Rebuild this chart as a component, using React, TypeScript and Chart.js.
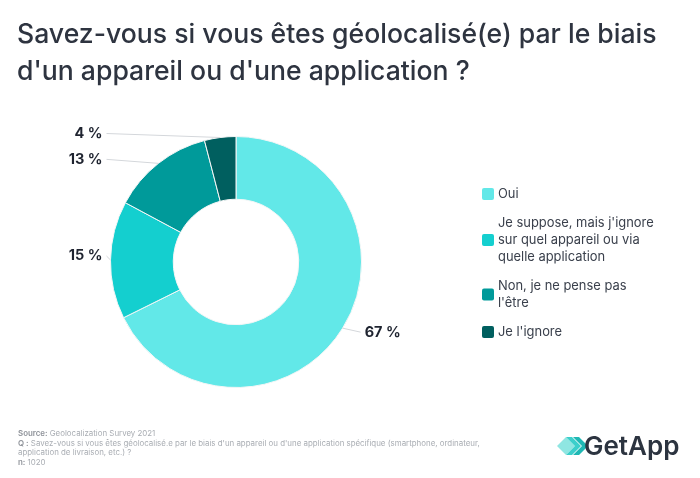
import React, { useEffect, useRef } from "react";
import { Chart, registerables } from "chart.js";

Chart.register(...registerables);

// Survey answers, in drawing order (clockwise from 12 o'clock)
const categories = [
  "Oui",
  "Je suppose, mais j'ignore sur quel appareil ou via quelle application",
  "Non, je ne pense pas l'être",
  "Je l'ignore",
];
const legendLines = [
  ["Oui"],
  ["Je suppose, mais j'ignore", "sur quel appareil ou via", "quelle application"],
  ["Non, je ne pense pas", "l'être"],
  ["Je l'ignore"],
];
const shares = [67, 15, 13, 4];
const sliceColors = ["#62E8E8", "#14CFCF", "#009A9A", "#005F5F"];

const titleLines = [
  "Savez-vous si vous êtes géolocalisé(e) par le biais",
  "d'un appareil ou d'une application ?",
];
const footerLines: [string, string][] = [
  ["Source:", " Geolocalization Survey 2021"],
  ["Q :", " Savez-vous si vous êtes géolocalisé.e par le biais d'un appareil ou d'une application spécifique (smartphone, ordinateur,"],
  ["", "application de livraison, etc.) ?"],
  ["n:", " 1020"],
];

const FONT = "Inter, 'Open Sans', sans-serif";
const TEXT_DARK = "#2E3440";

const decorPlugin = {
  id: "decor",
  afterDraw(chart: any) {
    const ctx: CanvasRenderingContext2D = chart.ctx;
    ctx.save();

    // Title
    ctx.fillStyle = TEXT_DARK;
    ctx.font = `500 26.6px ${FONT}`;
    ctx.textAlign = "left";
    ctx.textBaseline = "alphabetic";
    titleLines.forEach((t, i) => ctx.fillText(t, 17, 43 + i * 37));

    // Percentage labels with leader lines
    const meta = chart.getDatasetMeta(0);
    meta.data.forEach((arc: any, i: number) => {
      const p = arc.getProps(["x", "y", "startAngle", "endAngle", "outerRadius"], true);
      const mid = (p.startAngle + p.endAngle) / 2;
      const px = p.x + Math.cos(mid) * p.outerRadius;
      const py = p.y + Math.sin(mid) * p.outerRadius;
      const left = Math.cos(mid) < 0;
      const ly = py + (left ? -4 : 4);
      const lx = left ? p.x - p.outerRadius - 8 : px + 22;
      ctx.strokeStyle = "#D4D7DB";
      ctx.lineWidth = 1;
      ctx.beginPath();
      ctx.moveTo(left ? lx + 4 : lx - 4, ly);
      ctx.lineTo(px, py);
      ctx.stroke();
      ctx.fillStyle = "#1F2430";
      ctx.font = `700 14.5px ${FONT}`;
      ctx.textBaseline = "middle";
      ctx.textAlign = left ? "right" : "left";
      ctx.fillText(`${shares[i]} %`, lx, ly);
    });

    // Legend
    ctx.textAlign = "left";
    ctx.textBaseline = "middle";
    ctx.font = `400 12.9px ${FONT}`;
    const lineH = 17;
    let y = 194;
    legendLines.forEach((lines, i) => {
      const blockH = (lines.length - 1) * lineH;
      const cy = y + blockH / 2;
      ctx.fillStyle = sliceColors[i];
      ctx.beginPath();
      (ctx as any).roundRect(482, cy - 6, 12, 12, 2);
      ctx.fill();
      ctx.fillStyle = "#3A404C";
      lines.forEach((l, j) => ctx.fillText(l, 498, y + j * lineH));
      y += blockH + 29;
    });

    // Footer
    ctx.textBaseline = "alphabetic";
    footerLines.forEach(([head, rest], i) => {
      const fy = 436 + i * 9.6;
      let x = 18;
      if (head) {
        ctx.font = `600 7.9px ${FONT}`;
        ctx.fillStyle = "#8E9299";
        ctx.fillText(head, x, fy);
        x += ctx.measureText(head).width;
      }
      ctx.font = `400 7.9px ${FONT}`;
      ctx.fillStyle = "#A9ADB3";
      ctx.fillText(rest, x, fy);
    });

    // GetApp mark
    const chev = (x0: number, color: string) => {
      ctx.fillStyle = color;
      ctx.beginPath();
      ctx.moveTo(x0, 437);
      ctx.lineTo(x0 + 6, 437);
      ctx.lineTo(x0 + 15, 446);
      ctx.lineTo(x0 + 6, 455);
      ctx.lineTo(x0, 455);
      ctx.lineTo(x0 + 9, 446);
      ctx.closePath();
      ctx.fill();
    };
    ctx.fillStyle = "#8FE6E2";
    ctx.beginPath();
    ctx.moveTo(557, 446);
    ctx.lineTo(566, 437);
    ctx.lineTo(575, 446);
    ctx.lineTo(566, 455);
    ctx.closePath();
    ctx.fill();
    chev(566, "#3CCFCB");
    chev(573, "#1FB8B4");
    ctx.fillStyle = "#2C3440";
    ctx.font = `600 26px ${FONT}`;
    ctx.textBaseline = "middle";
    ctx.fillText("GetApp", 584, 447);

    ctx.restore();
  },
};

export default function App() {
  const ref = useRef<HTMLCanvasElement | null>(null);

  useEffect(() => {
    if (!ref.current) return;
    const chart = new Chart(ref.current, {
      type: "doughnut",
      data: {
        labels: categories,
        datasets: [
          {
            data: shares,
            backgroundColor: sliceColors,
            borderColor: "#F4F6F6",
            borderWidth: 1,
          },
        ],
      },
      options: {
        animation: false,
        responsive: false,
        cutout: "50%",
        layout: { padding: { left: 110, right: 338, top: 136, bottom: 90 } },
        plugins: {
          legend: { display: false },
          title: { display: false },
          tooltip: { enabled: false },
        },
      },
      plugins: [decorPlugin],
    });
    return () => chart.destroy();
  }, []);

  return (
    <div style={{ position: "fixed", left: 0, top: 0, width: 700, height: 478, background: "#fff" }}>
      <canvas ref={ref} width={700} height={478} style={{ width: 700, height: 478 }} />
    </div>
  );
}
